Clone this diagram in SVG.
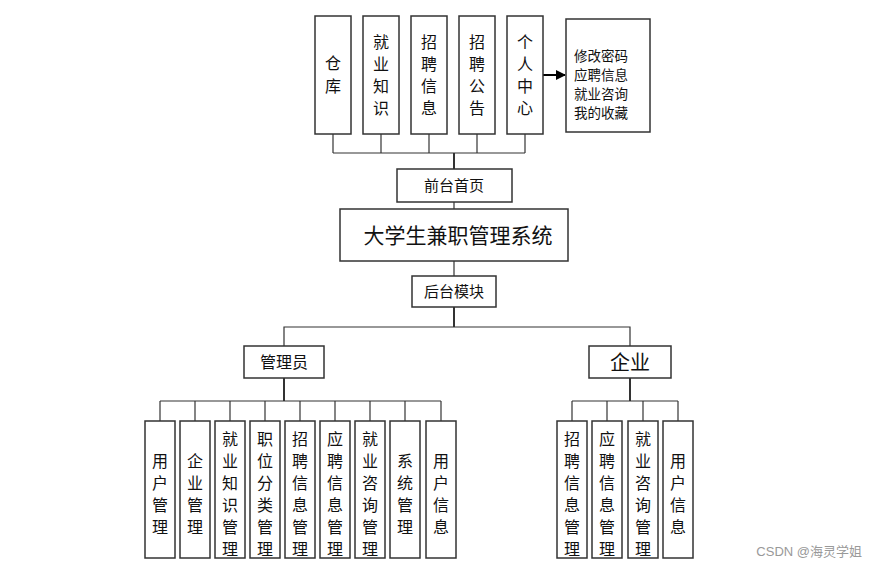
<svg xmlns="http://www.w3.org/2000/svg" width="877" height="567" viewBox="0 0 877 567">
<style>
rect{fill:#fff;stroke:#333;stroke-width:1.5}
text{font-family:"Noto Sans CJK SC",sans-serif;font-size:16px;fill:#111;text-anchor:middle}
text.l{text-anchor:start;font-size:13.5px}
.c line,.c polyline{stroke:#333;stroke-width:1.2;fill:none}
.c .t{stroke-width:2}
.c .ar{stroke:#000;stroke-width:2}
</style>
<defs><marker id="a" markerWidth="10" markerHeight="10" refX="9" refY="5" orient="auto" markerUnits="userSpaceOnUse"><path d="M0,0L10,5L0,10z" fill="#000"/></marker></defs>
<g class="c">
<line x1="333" y1="134" x2="333" y2="153"/><line x1="381" y1="134" x2="381" y2="153"/><line x1="429" y1="134" x2="429" y2="153"/><line x1="477" y1="134" x2="477" y2="153"/><line x1="525" y1="134" x2="525" y2="153"/>
<line x1="333" y1="153" x2="525" y2="153"/>
<line class="t" x1="454" y1="153" x2="454" y2="169"/>
<line x1="454" y1="202" x2="454" y2="209"/>
<line x1="454" y1="261" x2="454" y2="276"/>
<line class="t" x1="454" y1="307" x2="454" y2="327"/>
<polyline points="284,346 284,327 630,327 630,346"/>
<line class="ar" x1="543" y1="75" x2="565" y2="75" marker-end="url(#a)"/>
<line class="t" x1="284" y1="378" x2="284" y2="401"/>
<line x1="160" y1="401" x2="441" y2="401"/>
<line x1="160" y1="401" x2="160" y2="421"/><line x1="195" y1="401" x2="195" y2="421"/><line x1="230" y1="401" x2="230" y2="421"/><line x1="265" y1="401" x2="265" y2="421"/><line x1="300" y1="401" x2="300" y2="421"/><line x1="335" y1="401" x2="335" y2="421"/><line x1="370" y1="401" x2="370" y2="421"/><line x1="405" y1="401" x2="405" y2="421"/><line x1="441" y1="401" x2="441" y2="421"/>
<line class="t" x1="630" y1="378" x2="630" y2="401"/>
<line x1="572" y1="401" x2="678" y2="401"/>
<line x1="572" y1="401" x2="572" y2="421"/><line x1="607" y1="401" x2="607" y2="421"/><line x1="643" y1="401" x2="643" y2="421"/><line x1="678" y1="401" x2="678" y2="421"/>
</g>
<g id="n1"><rect x="315" y="16" width="36" height="118"/><text x="333" y="69">仓</text><text x="333" y="92">库</text></g>
<g id="n2"><rect x="363" y="16" width="36" height="118"/><text x="381" y="48">就</text><text x="381" y="70">业</text><text x="381" y="92">知</text><text x="381" y="114">识</text></g>
<g id="n3"><rect x="411" y="16" width="36" height="118"/><text x="429" y="48">招</text><text x="429" y="70">聘</text><text x="429" y="92">信</text><text x="429" y="114">息</text></g>
<g id="n4"><rect x="459" y="16" width="36" height="118"/><text x="477" y="48">招</text><text x="477" y="70">聘</text><text x="477" y="92">公</text><text x="477" y="114">告</text></g>
<g id="n5"><rect x="507" y="16" width="36" height="118"/><text x="525" y="48">个</text><text x="525" y="70">人</text><text x="525" y="92">中</text><text x="525" y="114">心</text></g>
<g id="n6"><rect x="566" y="19" width="84" height="113"/><text class="l" x="574" y="61">修改密码</text><text class="l" x="574" y="80">应聘信息</text><text class="l" x="574" y="99">就业咨询</text><text class="l" x="574" y="118">我的收藏</text></g>
<g id="front"><rect x="397" y="169" width="115" height="33"/><text x="454" y="191" style="font-size:15px">前台首页</text></g>
<g id="sys"><rect x="340" y="209" width="228" height="52"/><text x="458" y="243" style="font-size:21px">大学生兼职管理系统</text></g>
<g id="back"><rect x="412" y="276" width="84" height="31"/><text x="454" y="297" style="font-size:15px">后台模块</text></g>
<g id="admin"><rect x="244" y="346" width="80" height="32"/><text x="284" y="368">管理员</text></g>
<g id="ent"><rect x="589" y="346" width="82" height="32"/><text x="630" y="370" style="font-size:20px">企业</text></g>
<g id="a1"><rect x="145" y="421" width="30" height="137"/><text x="160" y="467">用</text><text x="160" y="489">户</text><text x="160" y="511">管</text><text x="160" y="533">理</text></g>
<g id="a2"><rect x="180" y="421" width="30" height="137"/><text x="195" y="467">企</text><text x="195" y="489">业</text><text x="195" y="511">管</text><text x="195" y="533">理</text></g>
<g id="a3"><rect x="215" y="421" width="30" height="137"/><text x="230" y="445">就</text><text x="230" y="467">业</text><text x="230" y="489">知</text><text x="230" y="511">识</text><text x="230" y="533">管</text><text x="230" y="555">理</text></g>
<g id="a4"><rect x="250" y="421" width="30" height="137"/><text x="265" y="445">职</text><text x="265" y="467">位</text><text x="265" y="489">分</text><text x="265" y="511">类</text><text x="265" y="533">管</text><text x="265" y="555">理</text></g>
<g id="a5"><rect x="285" y="421" width="30" height="137"/><text x="300" y="445">招</text><text x="300" y="467">聘</text><text x="300" y="489">信</text><text x="300" y="511">息</text><text x="300" y="533">管</text><text x="300" y="555">理</text></g>
<g id="a6"><rect x="320" y="421" width="30" height="137"/><text x="335" y="445">应</text><text x="335" y="467">聘</text><text x="335" y="489">信</text><text x="335" y="511">息</text><text x="335" y="533">管</text><text x="335" y="555">理</text></g>
<g id="a7"><rect x="355" y="421" width="30" height="137"/><text x="370" y="445">就</text><text x="370" y="467">业</text><text x="370" y="489">咨</text><text x="370" y="511">询</text><text x="370" y="533">管</text><text x="370" y="555">理</text></g>
<g id="a8"><rect x="390" y="421" width="30" height="137"/><text x="405" y="467">系</text><text x="405" y="489">统</text><text x="405" y="511">管</text><text x="405" y="533">理</text></g>
<g id="a9"><rect x="426" y="421" width="30" height="137"/><text x="441" y="467">用</text><text x="441" y="489">户</text><text x="441" y="511">信</text><text x="441" y="533">息</text></g>
<g id="e1"><rect x="557" y="421" width="30" height="137"/><text x="572" y="445">招</text><text x="572" y="467">聘</text><text x="572" y="489">信</text><text x="572" y="511">息</text><text x="572" y="533">管</text><text x="572" y="555">理</text></g>
<g id="e2"><rect x="592" y="421" width="30" height="137"/><text x="607" y="445">应</text><text x="607" y="467">聘</text><text x="607" y="489">信</text><text x="607" y="511">息</text><text x="607" y="533">管</text><text x="607" y="555">理</text></g>
<g id="e3"><rect x="628" y="421" width="30" height="137"/><text x="643" y="445">就</text><text x="643" y="467">业</text><text x="643" y="489">咨</text><text x="643" y="511">询</text><text x="643" y="533">管</text><text x="643" y="555">理</text></g>
<g id="e4"><rect x="663" y="421" width="30" height="137"/><text x="678" y="467">用</text><text x="678" y="489">户</text><text x="678" y="511">信</text><text x="678" y="533">息</text></g>
<text x="862" y="556" style="font-size:13px;fill:#999;text-anchor:end;font-family:'Liberation Sans','Noto Sans CJK SC',sans-serif">CSDN @海灵学姐</text>
</svg>
